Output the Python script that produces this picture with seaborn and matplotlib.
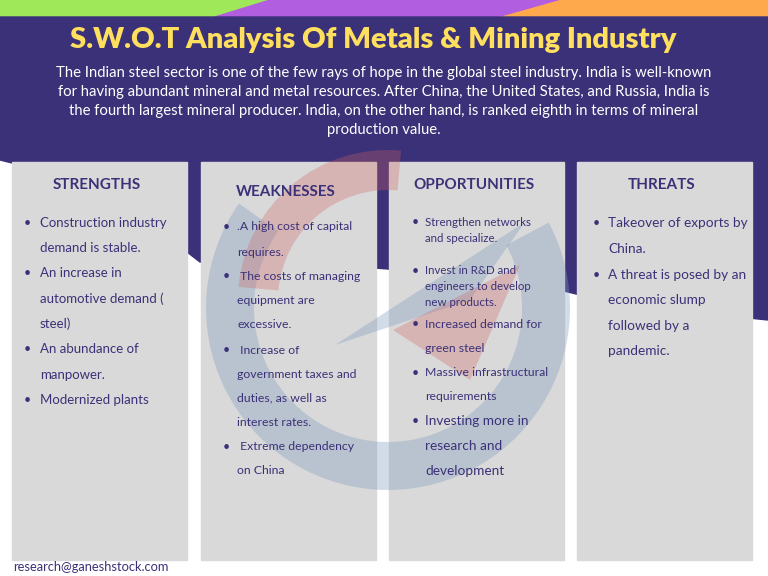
import matplotlib
matplotlib.use("Agg")
import matplotlib.pyplot as plt
import seaborn as sns
from matplotlib.patches import Polygon, Rectangle, Wedge

sns.set_theme(style="white")
plt.rcParams['font.family'] = ['Lato', 'DejaVu Sans']

title = "S.W.O.T Analysis Of Metals & Mining Industry"
intro = ["The Indian steel sector is one of the few rays of hope in the global steel industry. India is well-known",
         "for having abundant mineral and metal resources. After China, the United States, and Russia, India is",
         "the fourth largest mineral producer. India, on the other hand, is ranked eighth in terms of mineral",
         "production value."]
headers = ["STRENGTHS", "WEAKNESSES", "OPPORTUNITIES", "THREATS"]
col_lines = [
    ["Construction industry", "demand is stable.", "An increase in", "automotive demand (", "steel)",
     "An abundance of", "manpower.", "Modernized plants"],
    [".A high cost of capital", "requires.", " The costs of managing", "equipment are", "excessive.",
     " Increase of", "government taxes and", "duties, as well as", "interest rates.",
     " Extreme dependency", "on China"],
    ["Strengthen networks", "and specialize.", "Invest in R&D and", "engineers to develop", "new products.",
     "Increased demand for", "green steel", "Massive infrastructural", "requirements",
     "Investing more in", "research and", "development"],
    ["Takeover of exports by", "China.", "A threat is posed by an", "economic slump", "followed by a",
     "pandemic."],
]
col_line_y = [
    [223, 248, 273, 299, 324, 349, 375, 400],
    [227, 252, 276, 301, 325, 350, 374, 398, 423, 447, 471],
    [222, 238, 271, 287, 303, 324, 349, 373, 397, 421, 446, 471],
    [223, 249, 275, 300, 326, 351],
]
col_bullets = [[0, 2, 5, 7], [0, 2, 5, 9], [0, 2, 5, 7, 9], [0, 2]]
col_sizes = [
    [9.5]*8,
    [8.8]*11,
    [8.3]*5 + [8.8]*4 + [9.8]*3,
    [9.8]*6,
]
footer = "research@ganeshstock.com"

NAVY = "#3b3178"
fig = plt.figure(figsize=(7.68, 5.76), dpi=100)
ax = fig.add_axes([0, 0, 1, 1])
ax.set_xlim(0, 768); ax.set_ylim(576, 0); ax.axis("off")

# top stripes
ax.add_patch(Polygon([(0, 0), (270, 0), (215, 17), (0, 17)], color="#9ee85a"))
ax.add_patch(Polygon([(270, 0), (560, 0), (500, 17), (215, 17)], color="#b25ee0"))
ax.add_patch(Polygon([(560, 0), (768, 0), (768, 17), (500, 17)], color="#ffa94d"))
# navy band
ax.add_patch(Polygon([(0, 17), (768, 17), (768, 320), (690, 312), (600, 300), (560, 290),
                      (520, 275), (400, 270), (300, 262), (200, 262), (100, 185), (0, 160)], color=NAVY))

col_x = [12, 201, 389, 577]
col_w = 175
for cx in col_x:
    ax.add_patch(Rectangle((cx, 162), col_w, 398, color="#d9d9d9", zorder=2))

# swoosh logo (translucent)
ax.add_patch(Wedge((388, 308), 182, -28, 215, width=48, color="#7f9cc0", alpha=0.35, zorder=3, lw=0))
ax.add_patch(Wedge((388, 300), 150, 185, 275, width=40, color="#d06060", alpha=0.3, zorder=3, lw=0))
ax.add_patch(Polygon([(335, 345), (525, 222), (470, 300)], color="#7f9cc0", alpha=0.35, zorder=3, lw=0))
ax.add_patch(Polygon([(393, 330), (520, 265), (470, 380)], color="#d06060", alpha=0.3, zorder=3, lw=0))

ax.text(373, 40, title, color="#ffdf5e", fontsize=21, fontweight="heavy", ha="center", va="center",
        zorder=5)
for i, line in enumerate(intro):
    ax.text(384, 73 + i * 19, line, color="white", fontsize=10.7, ha="center", va="center", zorder=5)

head_y = [185, 192, 185, 185]
bullet_x = [27, 226, 415, 596]
text_x = [40, 237, 425, 608]
for c in range(4):
    ax.text(col_x[c] + col_w / 2 - 3, head_y[c], headers[c], color=NAVY, fontsize=11,
            fontweight="bold", ha="center", va="center", zorder=5)
    for j, (line, y) in enumerate(zip(col_lines[c], col_line_y[c])):
        ax.text(text_x[c], y, line, color=NAVY, fontsize=col_sizes[c][j], ha="left", va="center", zorder=5)
        if j in col_bullets[c]:
            ax.text(bullet_x[c], y, "•", color=NAVY, fontsize=9, ha="center", va="center", zorder=5)

ax.text(13, 567, footer, color=NAVY, fontsize=9.3, ha="left", va="center", zorder=5)
fig.savefig("out.png", dpi=100)
